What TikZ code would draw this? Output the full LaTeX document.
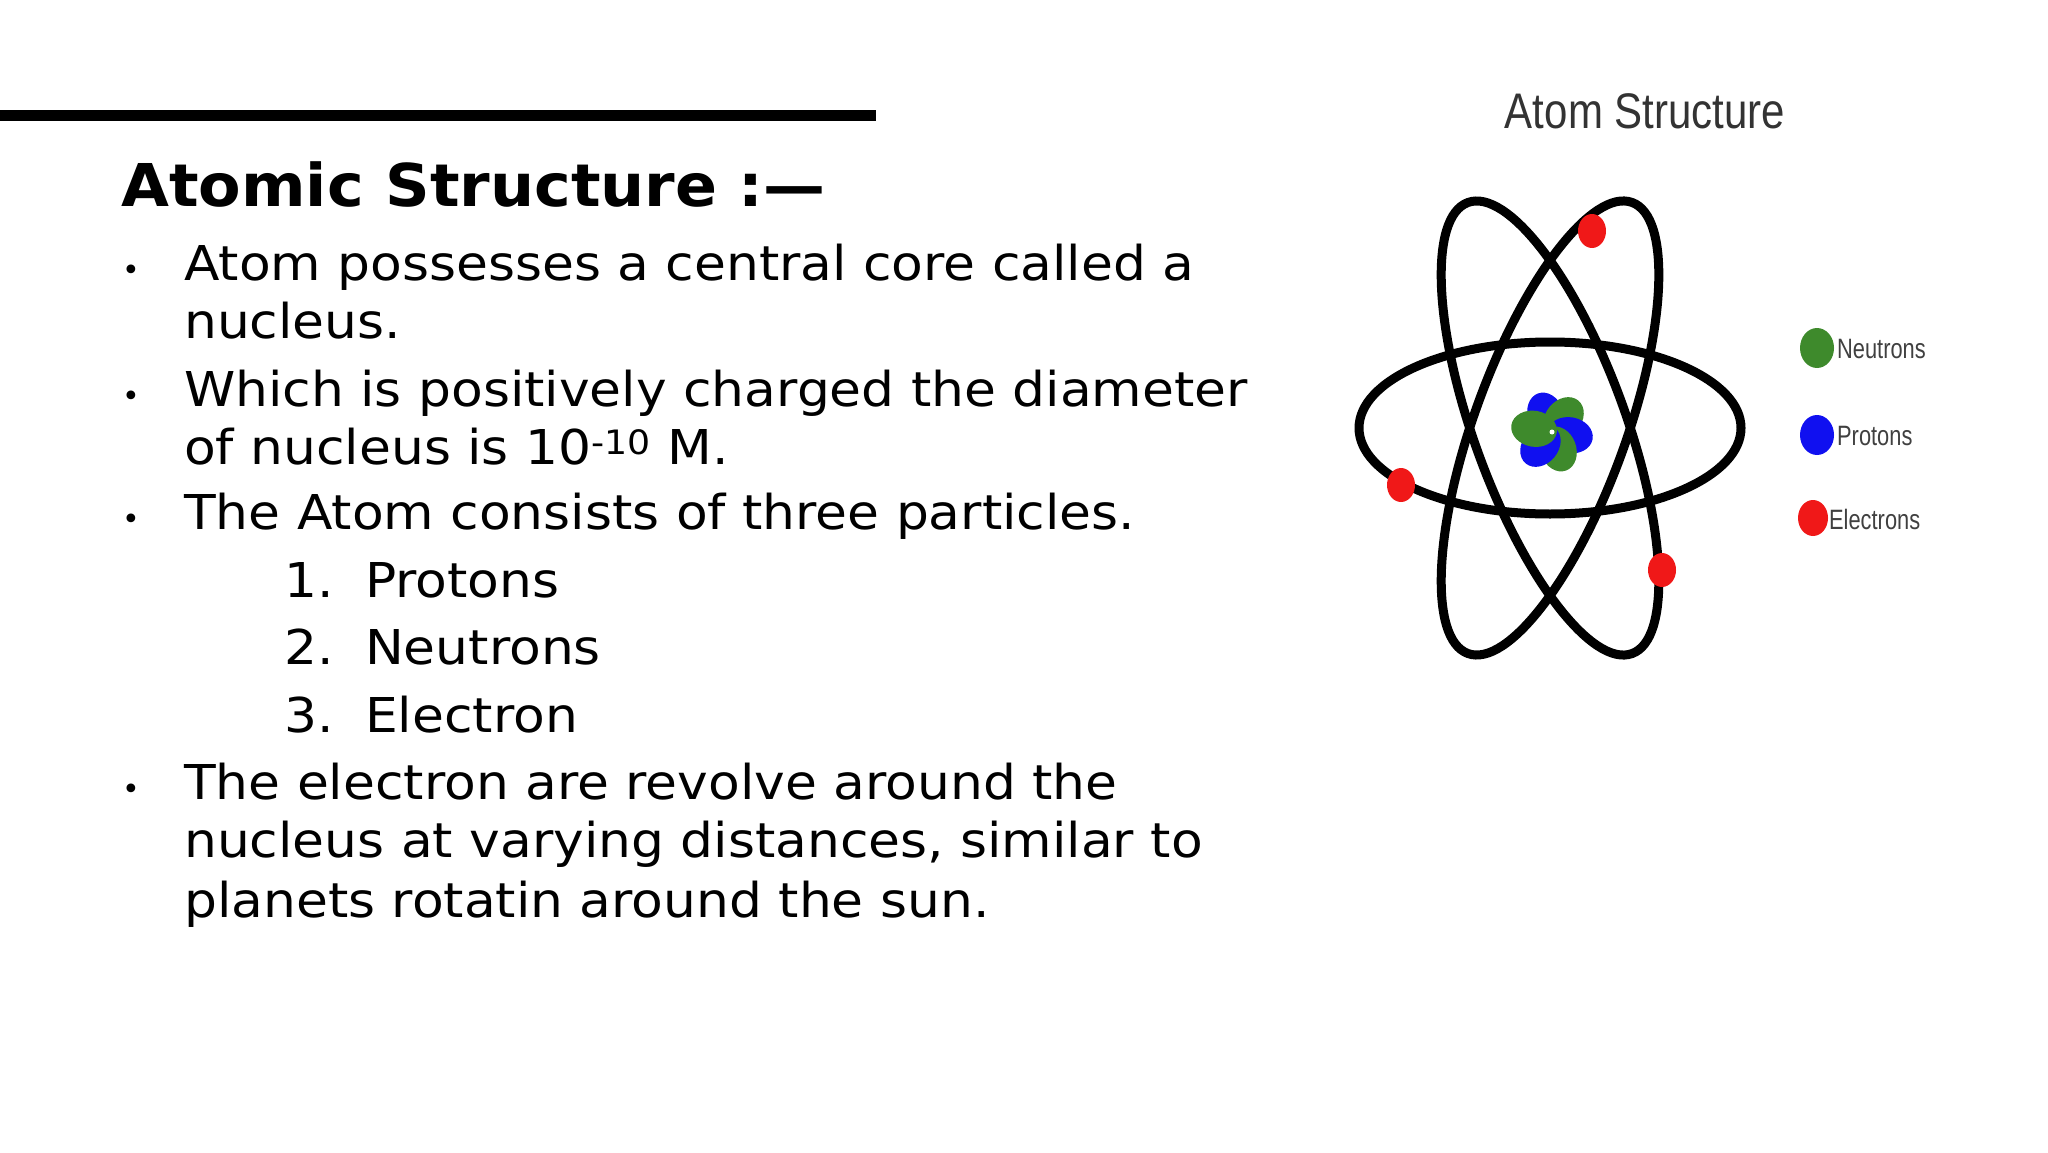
\documentclass[tikz,border=0pt]{standalone}
\usepackage{fontspec}
\usetikzlibrary{calc}
\setmainfont{DejaVu Sans}
\newfontfamily\lab{Liberation Sans}
\definecolor{ngreen}{HTML}{3E8A2C}
\definecolor{pblue}{HTML}{1010F0}
\definecolor{ered}{HTML}{F01818}
\tikzset{txt/.style={anchor=base west,inner sep=0,xscale=1.08,font=\fontsize{48}{50}\selectfont},
orbit/.style={line width=9pt,black},
elec/.style={fill=ered,draw=none},
lbl/.style={anchor=west,inner sep=0,text=black!75,xscale=0.78,font=\lab\fontsize{28}{30}\selectfont}}
\begin{document}
\begin{tikzpicture}[x=1pt,y=-1pt]
\useasboundingbox (0,0) rectangle (2048,1153);
\draw[line width=11pt] (0,116) coordinate (b1) -- (876,116) coordinate (b2);
\node[anchor=base west,inner sep=0,xscale=1.05,font=\bfseries\fontsize{59}{60}\selectfont] (title) at (121,206) {Atomic Structure :—};
\foreach \y in {280,406,529,799} \node[anchor=base,inner sep=0,font=\fontsize{30}{30}\selectfont] at (131,\y) {•};
\node[txt] (l1) at (184,280) {Atom possesses a central core called a};
\node[txt] (l2) at (184,338) {nucleus.};
\node[txt] (l3) at (184,406) {Which is positively charged the diameter};
\node[txt] (l4) at (184,464) {of nucleus is 10\textsuperscript{-10} M.};
\node[txt] (l5) at (184,529) {The Atom consists of three particles.};
\node[txt,anchor=base east] (n1) at (334,597) {1.};
\node[txt] (p1) at (365,597) {Protons};
\node[txt,anchor=base east] (n2) at (334,664) {2.};
\node[txt] (p2) at (365,664) {Neutrons};
\node[txt,anchor=base east] (n3) at (334,732) {3.};
\node[txt] (p3) at (365,732) {Electron};
\node[txt] (l6) at (184,799) {The electron are revolve around the};
\node[txt] (l7) at (184,857) {nucleus at varying distances, similar to};
\node[txt] (l8) at (184,917) {planets rotatin around the sun.};
% atom
\node[font=\lab\fontsize{50}{52}\selectfont,text=black!80,xscale=0.84] (at) at (1645,111) {Atom Structure};
\coordinate (c) at (1550,428);
\coordinate (nc) at (1552,432);
\draw[orbit] (c) ellipse [x radius=191,y radius=86];
\draw[orbit,rotate around={70:(c)}] (c) ellipse [x radius=240,y radius=76];
\draw[orbit,rotate around={-70:(c)}] (c) ellipse [x radius=240,y radius=76];
\foreach \a/\col in {110/pblue,50/ngreen,-10/pblue,-70/ngreen,-130/pblue,170/ngreen}
  \fill[\col,rotate around={\a:(nc)}] ($(nc)+(18,0)$) ellipse [x radius=23,y radius=18];
\fill[white] (nc) circle (2.5);
\fill[elec] (1592,231) ellipse [x radius=14,y radius=17];
\fill[elec] (1401,485) ellipse [x radius=14,y radius=17];
\fill[elec] (1662,570) ellipse [x radius=14,y radius=17];
\fill[ngreen] (1817,348) ellipse [x radius=17,y radius=20];
\fill[pblue] (1817,435) ellipse [x radius=17,y radius=20];
\fill[ered] (1813,518) ellipse [x radius=15,y radius=18];
\node[lbl] (ln) at (1837,349) {Neutrons};
\node[lbl] (lp) at (1837,436) {Protons};
\node[lbl] (le) at (1829,519) {Electrons};
\end{tikzpicture}
\end{document}
